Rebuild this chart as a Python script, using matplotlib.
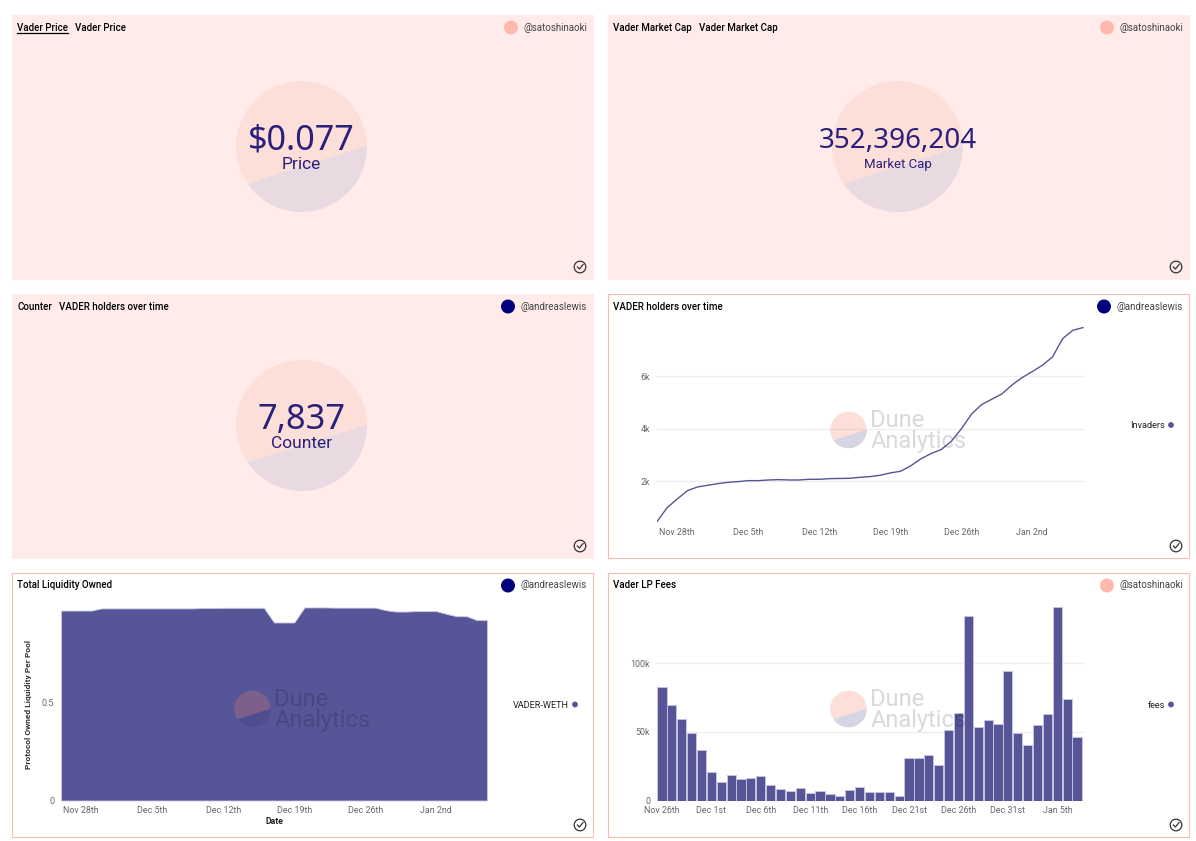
import matplotlib
matplotlib.use("Agg")
import matplotlib.pyplot as plt
from matplotlib.patches import Circle, Polygon, Rectangle

W = 1196
H = 841

holders = [463, 997, 1327, 1644, 1784, 1848, 1911, 1962, 1987, 2025, 2025, 2050, 2063, 2050,
           2050, 2076, 2076, 2100, 2108, 2114, 2152, 2178, 2229, 2318, 2381, 2584, 2851, 3054,
           3206, 3511, 3994, 4553, 4921, 5124, 5327, 5670, 5950, 6178, 6420, 6737, 7436, 7753, 7855]
holder_ticks = [2, 9, 16, 23, 30, 37]
holder_labels = ["Nov 28th", "Dec 5th", "Dec 12th", "Dec 19th", "Dec 26th", "Jan 2nd"]

liquidity = [0.972, 0.972, 0.972, 0.972, 0.983, 0.983, 0.983, 0.983, 0.983, 0.983, 0.983, 0.983,
             0.983, 0.983, 0.985, 0.985, 0.986, 0.986, 0.986, 0.986, 0.986, 0.911, 0.911, 0.911,
             0.988, 0.988, 0.988, 0.987, 0.987, 0.987, 0.987, 0.987, 0.974, 0.967, 0.967, 0.969,
             0.969, 0.969, 0.955, 0.943, 0.943, 0.923, 0.923]

fees = [82.5, 70, 59.5, 49, 37, 21, 13.5, 18.6, 15.7, 16.2, 17.9, 11.6, 8.5, 7, 9, 5.6, 7, 4.4,
        3, 7.3, 10.2, 6, 6.3, 6.4, 3.4, 30.8, 31, 33, 26, 51.3, 64, 135, 54, 58.8, 55.7, 94.4,
        49.6, 40.2, 55, 63, 141, 74, 46.5]
fee_ticks = [0, 5, 10, 15, 20, 25, 30, 35, 40]
fee_labels = ["Nov 26th", "Dec 1st", "Dec 6th", "Dec 11th", "Dec 16th", "Dec 21st", "Dec 26th",
              "Dec 31st", "Jan 5th"]

PINK = "#ffecea"
BORDER = "#ffb8ad"
PURPLE = "#555597"
INK = "#2a1f7a"
SANS = "Roboto"
NUMBERS = "Noto Sans"

plt.rcParams["font.family"] = SANS


def chart_axes(fig, left, right, top, bottom):
    ax = fig.add_axes([left / W, 1 - bottom / H, (right - left) / W, (bottom - top) / H], zorder=2)
    ax.patch.set_alpha(0)
    for spine in ax.spines.values():
        spine.set_visible(False)
    ax.tick_params(length=0, labelsize=6.4, labelcolor="#666666")
    return ax


def panel(ax, x0, y0, x1, y1, fill, edge):
    ax.add_patch(Rectangle((x0, y0), x1 - x0, y1 - y0, facecolor=fill, edgecolor=edge, linewidth=0.75))


def header(ax, x0, y0, x1, titles, handle, avatar):
    x = x0 + 6
    for t, gap in titles:
        ax.text(x, y0 + 13, t, fontsize=7, fontweight="medium", color="black", va="center")
        x += gap
    ax.text(x1 - 6, y0 + 13, handle, fontsize=7, color="#444444", va="center", ha="right")
    offset = 82 if handle == "@satoshinaoki" else 85
    ax.add_patch(Circle((x1 - offset, y0 + 13), 7, facecolor=avatar, edgecolor="none"))


def pie_logo(ax, cx, cy, r, top, bottom, top_alpha=1.0, bottom_alpha=1.0):
    # the split is a chord, not a radius, so both parts are polygons cut by the circle
    right = (cx + r * 1.02, cy + r * 0.02)
    left = (cx - r * 0.81, cy - r * 0.56)
    upper = [right, left, (cx - r * 1.1, cy - r * 0.62), (cx - r * 1.1, cy + r * 1.1), (cx + r * 1.1, cy + r * 1.1)]
    lower = [right, left, (cx - r, cy - r * 1.1), (cx + r * 1.02, cy - r * 1.1)]
    clip = Circle((cx, cy), r, facecolor="none", edgecolor="none")
    ax.add_patch(clip)
    for pts, colour, alpha in [(upper, top, top_alpha), (lower, bottom, bottom_alpha)]:
        part = Polygon(pts, facecolor=colour, edgecolor="none", alpha=alpha)
        ax.add_patch(part)
        part.set_clip_path(clip)


def counter(ax, x0, y0, value, label, value_size, label_size):
    cx = x0 + 290.5
    cy = H - (y0 + 132.5)
    pie_logo(ax, cx, cy, 65.5, "#fddfda", "#e9d9e0")
    ax.text(cx, cy + 6, value, fontsize=value_size, family=NUMBERS, color=INK, ha="center", va="center")
    ax.text(cx, cy - 18, label, fontsize=label_size, color=INK, ha="center", va="center")


def watermark(ax, x0, y_mid):
    # top slice is a light red wash, lower slice a navy wash, so both darken over the bars
    pie_logo(ax, x0, H - y_mid, 18.3, "#f8806c", "#2d2d73", 0.25, 0.2)
    ax.text(x0 + 22, H - y_mid - 1, "Dune\nAnalytics", fontsize=17, color="black", alpha=0.15,
            va="center", ha="left", linespacing=0.92)


def check_icon(ax, cx, cy):
    ax.add_patch(Circle((cx, cy), 5.8, facecolor="none", edgecolor="#333333", linewidth=0.9))
    ax.plot([cx - 2.6, cx - 0.6, cx + 3], [cy, cy - 2, cy + 2.4], color="#333333", linewidth=0.9)


def legend_item(ax, x, y, label):
    ax.text(x - 6, y, label, fontsize=6.6, color="#222222", ha="right", va="center")
    ax.add_patch(Circle((x, y + 0.5), 2.9, facecolor=PURPLE, edgecolor="none"))


def main():
    fig = plt.figure(figsize=(W / 100, H / 100), dpi=100)
    bg = fig.add_axes([0, 0, 1, 1], zorder=1)
    bg.set_xlim(0, W)
    bg.set_ylim(0, H)
    bg.axis("off")
    fg = fig.add_axes([0, 0, 1, 1], zorder=3)
    fg.set_xlim(0, W)
    fg.set_ylim(0, H)
    fg.axis("off")
    fg.patch.set_alpha(0)

    panels = [
        (11, 14, PINK, PINK), (607, 14, PINK, PINK),
        (11, 293, PINK, PINK), (607, 293, "white", BORDER),
        (11, 572, "white", BORDER), (607, 572, "white", BORDER),
    ]
    for x, y, fill, edge in panels:
        panel(bg, x + 0.5, H - y - 264.5, x + 581.5, H - y - 0.5, fill, edge)
        check_icon(fg, x + 569, H - y - 253)

    for x, y, titles, handle, avatar in [
        (11, 14, [("Vader Price", 58), ("Vader Price", 0)], "@satoshinaoki", BORDER),
        (607, 14, [("Vader Market Cap", 86), ("Vader Market Cap", 0)], "@satoshinaoki", BORDER),
        (11, 293, [("Counter", 42), ("VADER holders over time", 0)], "@andreaslewis", "#00007f"),
        (607, 293, [("VADER holders over time", 0)], "@andreaslewis", "#00007f"),
        (11, 572, [("Total Liquidity Owned", 0)], "@andreaslewis", "#00007f"),
        (607, 572, [("Vader LP Fees", 0)], "@satoshinaoki", BORDER),
    ]:
        header(fg, x, H - y - 26.5, x + 582, titles, handle, avatar)
    fg.plot([17, 68], [H - 33, H - 33], color="black", linewidth=0.9)

    counter(bg, 11, 14, "$0.077", "Price", 24.6, 12.5)
    counter(bg, 607, 14, "352,396,204", "Market Cap", 20, 9.5)
    counter(bg, 11, 293, "7,837", "Counter", 24.8, 12.5)

    # holders line
    ax = chart_axes(fig, 657, 1085, 325, 523)
    ax.plot(range(len(holders)), holders, color=PURPLE, linewidth=1)
    ax.set_xlim(0, 42.2)
    ax.set_ylim(411, 7954)
    ax.set_yticks([2000, 4000, 6000], ["2k", "4k", "6k"])
    ax.set_xticks(holder_ticks, holder_labels)
    ax.tick_params(axis="x", pad=3.5)
    ax.tick_params(axis="y", pad=5)
    ax.grid(axis="y", color="#eeeeee", linewidth=1)
    ax.set_axisbelow(True)
    watermark(fg, 848.5, 430)
    legend_item(fg, 1171, H - 425.5, "Invaders")

    # liquidity area
    ax = chart_axes(fig, 61, 487, 600, 800.5)
    ax.fill_between(range(len(liquidity)), liquidity, color=PURPLE, edgecolor="#c9c9e3", linewidth=0.6)
    ax.set_xlim(0, len(liquidity) - 1)
    ax.set_ylim(0, 1.026)
    ax.set_yticks([0, 0.5], ["0", "0.5"])
    ax.set_xticks(holder_ticks, holder_labels)
    ax.tick_params(axis="x", pad=4)
    ax.tick_params(axis="y", pad=5)
    watermark(fg, 252.5, 709)
    legend_item(fg, 575, H - 705, "VADER-WETH")
    fg.text(29, H - 704, "Protocol Owned Liquidity Per Pool", fontsize=6, fontweight="bold",
            color="#333333", rotation=90, ha="center", va="center")
    fg.text(274, H - 821, "Date", fontsize=6.3, fontweight="bold", color="#222222", ha="center", va="center")

    # fee bars
    ax = chart_axes(fig, 657, 1085, 605, 800.5)
    ax.bar(range(len(fees)), [v * 1000 for v in fees], width=0.93, color=PURPLE, edgecolor="#c9c9e3", linewidth=0.6)
    ax.set_xlim(-0.5, 42.8)
    ax.set_ylim(0, 142700)
    ax.set_yticks([0, 50000, 100000], ["0", "50k", "100k"])
    ax.set_xticks(fee_ticks, fee_labels)
    ax.tick_params(axis="x", pad=4)
    ax.tick_params(axis="y", pad=5)
    ax.grid(axis="y", color="#eeeeee", linewidth=1)
    ax.set_axisbelow(True)
    watermark(fg, 848.5, 709)
    legend_item(fg, 1171, H - 705, "fees")

    fig.savefig("out.png", dpi=100)


if __name__ == "__main__":
    main()
